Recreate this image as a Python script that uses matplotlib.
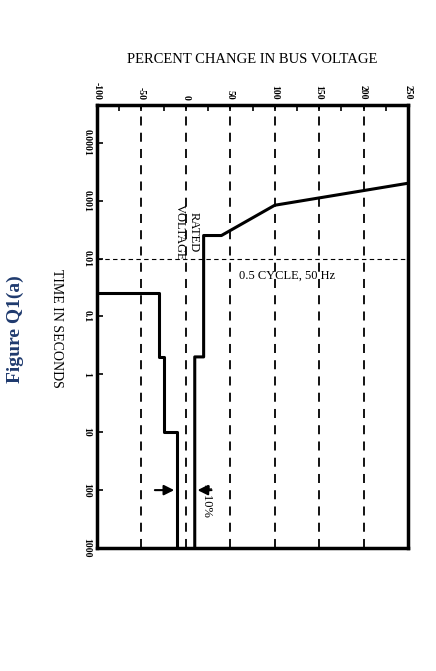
import matplotlib
matplotlib.use("Agg")
import matplotlib.pyplot as plt
import numpy as np

plt.rcParams['font.family'] = ['Liberation Serif', 'DejaVu Serif']

xticks = [-100, -50, 0, 50, 100, 150, 200, 250]
xtick_labels = ['-100', '-50', '0', '50', '100', '150', '200', '250']
yticks = [0.0001, 0.001, 0.01, 0.1, 1, 10, 100, 1000]
ytick_labels = ['0.0001', '0.001', '0.01', '0.1', '1', '10', '100', '1000']
grid_x = [-50, 0, 50, 100, 150, 200]

lower_v = [-100, -30, -30, -25, -25, -10, -10]
lower_t = [0.04, 0.04, 0.5, 0.5, 10, 10, 1000]
upper_v = [250, 100, 40, 20, 20, 10, 10]
upper_t = [0.0005, 0.0012, 0.004, 0.004, 0.5, 0.5, 1000]

fig = plt.figure(figsize=(4.36, 6.71), dpi=100)
ax = fig.add_axes([0.2225, 0.1833, 0.7133, 0.660])
ax.set_yscale('log')
ax.set_xlim(-100, 250)
ax.set_ylim(1000, 10**-4.65)

for g in grid_x:
    ax.axvline(g, color='black', lw=1.3, ls=(0, (5, 4)))
ax.axhline(0.01, color='black', lw=0.8, ls=(0, (4, 3)))

ax.plot(lower_v, lower_t, color='black', lw=2.2)
ax.plot(upper_v, upper_t, color='black', lw=2.2)

for s in ax.spines.values():
    s.set_linewidth(2.5)

ax.xaxis.tick_top()
ax.set_xticks(xticks)
ax.set_xticklabels(xtick_labels, rotation=-90, fontsize=7, fontweight='bold')
ax.set_xticks(np.arange(-75, 250, 50), minor=True)
ax.set_yticks(yticks)
ax.set_yticklabels(ytick_labels, rotation=-90, fontsize=7, fontweight='bold', va='center')
ax.yaxis.set_minor_locator(matplotlib.ticker.NullLocator())
ax.tick_params(axis='both', which='both', direction='in', length=4, width=1.2, pad=4)

ax.set_title('PERCENT CHANGE IN BUS VOLTAGE', fontsize=10.5, pad=30)

fig.text(0.13, 0.51, 'TIME IN SECONDS', rotation=-90, fontsize=10, ha='center', va='center')
fig.text(0.035, 0.51, 'Figure Q1(a)', rotation=90, fontsize=14, fontweight='bold',
         color='#1f3a6e', ha='center', va='center')

ax.text(1, 0.0035, 'RATED\nVOLTAGE', rotation=-90, fontsize=9, ha='center', va='center')
ax.text(60, 0.02, '0.5 CYCLE, 50 Hz', fontsize=9, ha='left', va='center')
ax.text(17, 150, '± 10%', rotation=-90, fontsize=9, ha='left', va='center')

ax.annotate('', xy=(-10, 100), xytext=(-38, 100),
            arrowprops=dict(arrowstyle='-|>,head_length=0.6,head_width=0.3', color='black', lw=1.5))
ax.annotate('', xy=(10, 100), xytext=(32, 100),
            arrowprops=dict(arrowstyle='-|>,head_length=0.6,head_width=0.3', color='black', lw=1.5))

fig.savefig('out.png', dpi=100)
